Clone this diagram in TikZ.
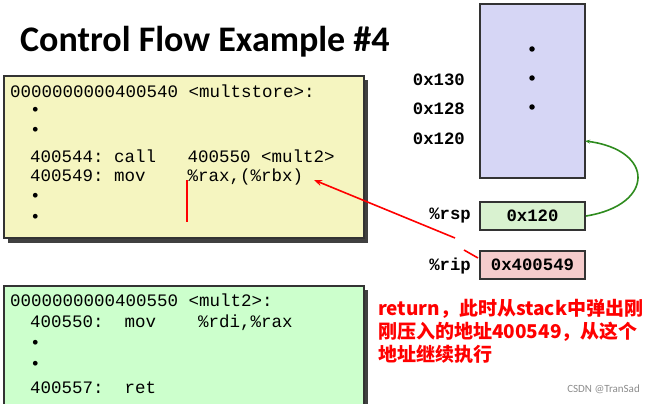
\documentclass[tikz,border=0pt]{standalone}
\usepackage{fontspec}
\setmainfont{Carlito}
\setmonofont{Liberation Mono}
\newfontfamily\cjk{Noto Sans CJK SC}
\usetikzlibrary{arrows.meta}
\definecolor{codey}{HTML}{F5F5C0}
\definecolor{codeg}{HTML}{CCFFCC}
\definecolor{stk}{HTML}{D6D6F5}
\definecolor{rspc}{HTML}{D9F2D0}
\definecolor{ripc}{HTML}{F5CCCC}
\definecolor{arrg}{HTML}{2E8B1E}
\newcommand\spc{\ }
\begin{document}
\begin{tikzpicture}[x=1pt,y=-1pt,
  codebox/.style={draw=black!80,line width=1.5pt},
  code/.style={anchor=west,inner sep=0pt,font=\fontsize{17.5}{20}\ttfamily},
  lab/.style={anchor=east,inner sep=0pt,font=\fontsize{17.3}{20}\ttfamily\bfseries},
  reg/.style={draw=black!80,line width=2pt,minimum width=105pt,minimum height=28pt,inner sep=0pt,font=\fontsize{17.3}{20}\ttfamily\bfseries},
  dot/.style={circle,fill=black,inner sep=0pt,minimum size=5.5pt}]
\useasboundingbox (0,0) rectangle (646,404);
\node[anchor=west,inner sep=0pt,font=\fontsize{36}{40}\bfseries] (title) at (20,42) {Control Flow Example \#4};
% yellow box
\fill[black!75] (8,80) rectangle (368,243);
\draw[codebox,fill=codey] (4,76) rectangle (364,238);
\node[code] (y1) at (10,91) {0000000000400540\spc<multstore>:};
\node[code] (y2) at (30,111) {•};
\node[code] (y3) at (30,131) {•};
\node[code] (y4) at (30,156) {400544:\spc call\spc\spc\spc 400550\spc<mult2>};
\node[code] (y5) at (30,177) {400549:\spc mov\spc\spc\spc\spc\%rax,(\%rbx)};
\node[code] (y6) at (30,197) {•};
\node[code] (y7) at (30,218) {•};
\draw[red,line width=1.2pt] (187,180) -- (187,222);
% green box
\fill[black!75] (8,290) rectangle (368,410);
\draw[codebox,fill=codeg] (4,286) rectangle (364,410);
\node[code] (g1) at (10,300) {0000000000400550\spc<mult2>:};
\node[code] (g2) at (30,323) {400550:\spc\spc mov\spc\spc\spc\spc\%rdi,\%rax};
\node[code] (g3) at (30,344) {•};
\node[code] (g4) at (30,365) {•};
\node[code] (g5) at (30,388) {400557:\spc\spc ret};
% stack
\draw[draw=black!80,line width=2pt,fill=stk] (480,4) rectangle (585,178);
\node[dot] (d1) at (532,49) {};
\node[dot] (d2) at (532,78) {};
\node[dot] (d3) at (532,107) {};
\node[lab] (a130) at (465,80) {0x130};
\node[lab] (a128) at (465,109) {0x128};
\node[lab] (a120) at (465,139) {0x120};
\coordinate (stk120) at (585,141);
\node[reg,fill=rspc] (rsp) at (532.5,216) {0x120};
\node[reg,fill=ripc] (rip) at (532.5,265) {0x400549};
\node[lab] (rspl) at (471,216) {\%rsp};
\node[lab] (ripl) at (471,266) {\%rip};
\draw[arrg,line width=1.6pt,-{Stealth[length=5pt]}] (rsp.east) .. controls (655,205) and (655,150) .. (stk120);
\coordinate (rs) at (455,238);
\coordinate (rt) at (314,180);
\draw[red,line width=1.6pt,-{Stealth[length=8pt]}] (rs) -- (rt);
\draw[red,line width=1.6pt] (464,250) -- (478,258);
\node[anchor=north west,inner sep=0pt,align=left,text=red,font=\fontsize{19}{23}\cjk\bfseries] (note) at (378,299) {return，此时从stack中弹出刚\\刚压入的地址400549，从这个\\地址继续执行};
\node[anchor=east,inner sep=0pt,text=black!45,font=\fontsize{11}{12}\selectfont] (csdn) at (640,389) {CSDN @TranSad};
\end{tikzpicture}
\end{document}
